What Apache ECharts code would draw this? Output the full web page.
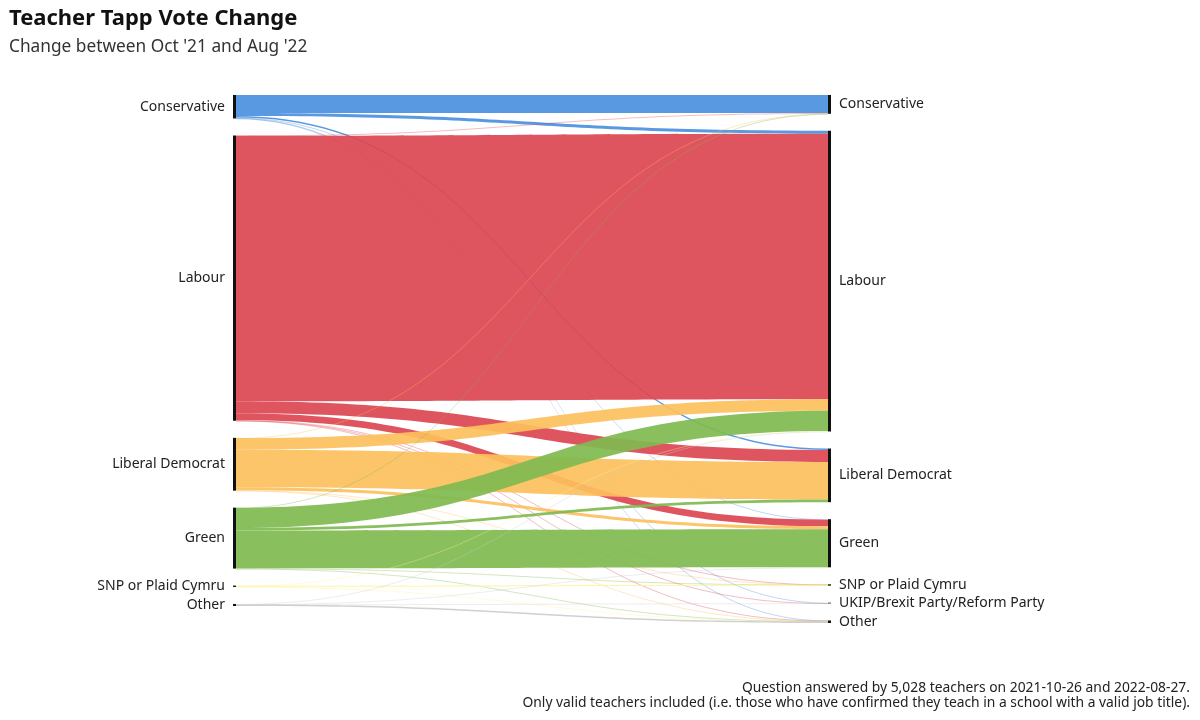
<!DOCTYPE html>
<html>
<head>
<meta charset="utf-8">
<script src="https://cdn.jsdelivr.net/npm/echarts@6/dist/echarts.min.js"></script>
<style>html,body{margin:0;padding:0;background:#fff}#c{width:1200px;height:720px}</style>
</head>
<body>
<div id="c"></div>
<script>
// Parties (left = Oct '21, right = Aug '22)
const leftParties = ["Conservative", "Labour", "Liberal Democrat", "Green", "SNP or Plaid Cymru", "Other"];
const rightParties = ["Conservative", "Labour", "Liberal Democrat", "Green", "SNP or Plaid Cymru", "UKIP/Brexit Party/Reform Party", "Other"];
const partyColors = {
  "Conservative": "#4a90e0",
  "Labour": "#dc4651",
  "Liberal Democrat": "#fcc05c",
  "Green": "#80ba50",
  "SNP or Plaid Cymru": "#fff39a",
  "UKIP/Brexit Party/Reform Party": "#b48cc8",
  "Other": "#cccccc"
};
// Flows (approximate number of teachers): [from, to, value]
const flowsFromConservative = [["Conservative", "Conservative", 212], ["Conservative", "Labour", 35], ["Conservative", "Liberal Democrat", 16], ["Conservative", "Green", 6], ["Conservative", "UKIP/Brexit Party/Reform Party", 4], ["Conservative", "Other", 2]];
const flowsFromLabour = [["Labour", "Conservative", 4], ["Labour", "Labour", 3105], ["Labour", "Liberal Democrat", 142], ["Labour", "Green", 77], ["Labour", "SNP or Plaid Cymru", 3], ["Labour", "UKIP/Brexit Party/Reform Party", 4], ["Labour", "Other", 4]];
const flowsFromLibDem = [["Liberal Democrat", "Conservative", 3], ["Liberal Democrat", "Labour", 136], ["Liberal Democrat", "Liberal Democrat", 440], ["Liberal Democrat", "Green", 35], ["Liberal Democrat", "SNP or Plaid Cymru", 2], ["Liberal Democrat", "Other", 2]];
const flowsFromGreen = [["Green", "Conservative", 1], ["Green", "Labour", 236], ["Green", "Liberal Democrat", 30], ["Green", "Green", 443], ["Green", "SNP or Plaid Cymru", 1], ["Green", "Other", 2]];
const flowsFromSNP = [["SNP or Plaid Cymru", "Labour", 4], ["SNP or Plaid Cymru", "SNP or Plaid Cymru", 10], ["SNP or Plaid Cymru", "Other", 2]];
const flowsFromOther = [["Other", "Labour", 3], ["Other", "Green", 2], ["Other", "Other", 18], ["Other", "UKIP/Brexit Party/Reform Party", 1]];

const titleText = "Teacher Tapp Vote Change";
const subtitleText = "Change between Oct '21 and Aug '22";
const footnoteLines = ["Question answered by 5,028 teachers on 2021-10-26 and 2022-08-27.", "Only valid teachers included (i.e. those who have confirmed they teach in a school with a valid job title)."];

const FONT = "Noto Sans";
const nodes = [];
leftParties.forEach(p => nodes.push({ name: "L|" + p, depth: 0, label: { position: "left" } }));
rightParties.forEach(p => nodes.push({ name: "R|" + p, depth: 1, label: { position: "right" } }));
const allFlows = [].concat(flowsFromConservative, flowsFromLabour, flowsFromLibDem, flowsFromGreen, flowsFromSNP, flowsFromOther);
const links = allFlows.map(f => ({
  source: "L|" + f[0], target: "R|" + f[1], value: f[2],
  lineStyle: { color: partyColors[f[0]], opacity: f[2] < 10 ? 0.35 : 0.92 }
}));

const chart = echarts.init(document.getElementById("c"), null, { renderer: "canvas" });
chart.setOption({
  backgroundColor: "#fff",
  animation: false,
  title: {
    text: titleText, subtext: subtitleText, left: 9, top: 8, itemGap: 9, padding: 0,
    textStyle: { fontFamily: FONT, fontSize: 22, fontWeight: "bold", color: "#111" },
    subtextStyle: { fontFamily: FONT, fontSize: 17.3, color: "#333" }
  },
  graphic: footnoteLines.map((t, i) => ({
    type: "text", right: 10, top: 681 + i * 15,
    style: { text: t, font: "13.85px '" + FONT + "'", fill: "#222", textAlign: "right" }
  })),
  series: [{
    type: "sankey",
    left: 233, right: 369, top: 95, bottom: 97,
    nodeWidth: 3, nodeGap: 17,
    layoutIterations: 0,
    draggable: false,
    emphasis: { disabled: true },
    data: nodes,
    links: links,
    itemStyle: { color: "#111", borderWidth: 0 },
    lineStyle: { curveness: 0.5, opacity: 0.92 },
    label: {
      fontFamily: FONT, fontSize: 14, color: "#222", distance: 8,
      formatter: p => p.name.slice(2)
    }
  }]
});
</script>
</body>
</html>
